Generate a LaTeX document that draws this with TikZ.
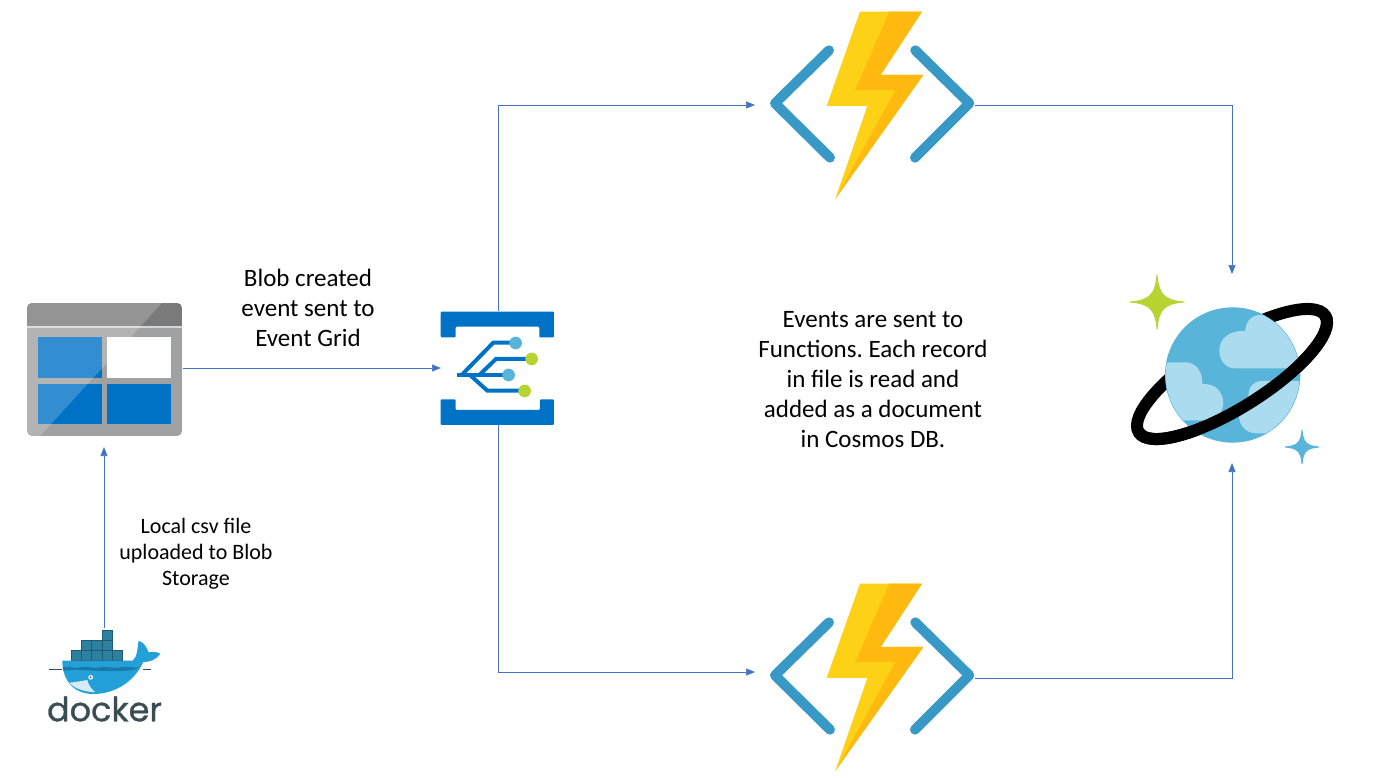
\documentclass[tikz,border=0pt]{standalone}
\usepackage{fontspec}
\setmainfont{Carlito}
\newfontfamily\dockerfont[FakeBold=.8]{Poppins}
\usepackage{xcolor}
\definecolor{flowblue}{RGB}{68,114,196}
\definecolor{azureblue}{RGB}{0,114,198}
\definecolor{azuresky}{RGB}{89,180,217}
\definecolor{azurepale}{RGB}{171,219,238}
\definecolor{azurelime}{RGB}{184,212,50}
\definecolor{funcblue}{RGB}{57,153,198}
\definecolor{boltlight}{RGB}{252,209,22}
\definecolor{boltdark}{RGB}{255,185,15}
\definecolor{blobgrey}{RGB}{160,161,162}
\definecolor{blobhead}{RGB}{122,122,122}
\definecolor{whaleblue}{RGB}{36,160,216}
\definecolor{whaledark}{RGB}{24,122,170}
\definecolor{boxteal}{RGB}{45,128,160}
\definecolor{dockerink}{RGB}{57,77,84}
\usetikzlibrary{arrows.meta}
\tikzset{
  flow/.style={draw=flowblue, line width=.7pt, -{Triangle[length=9pt,width=7pt]}},
  iconbox/.style={inner sep=0pt, outer sep=0pt, minimum width=#1},
  msg/.style={align=center, font=\fontsize{25}{30}\selectfont},
  msgsmall/.style={align=center, font=\fontsize{22}{26}\selectfont},
  dockerbox/.style={fill=boxteal, draw=boxteal!70!black, line width=.4pt},
  pics/functionicon/.style={code={
    \begin{scope}[x=.3333pt,y=-.3333pt]
      \fill[boltlight] (330,35) -- (516,35) -- (392,225) -- (520,225) -- (256,597) -- (352,318) -- (230,318) -- cycle;
      \fill[boltdark] (418,35) -- (516,35) -- (392,225) -- (520,225) -- (256,597) -- (437,270) -- (316,270) -- cycle;
      \draw[funcblue, line width=10pt, line cap=round, line join=round] (237,151) -- (75,310) -- (240,473);
      \draw[funcblue, line width=10pt, line cap=round, line join=round] (496,151) -- (658,310) -- (495,473);
    \end{scope}
  }},
  pics/sparkle/.style={code={
    \filldraw[#1, line width=1pt, line join=round] (0,-27) .. controls (1.5,-7.5) and (7.5,-1.5) .. (27,0) .. controls (7.5,1.5) and (1.5,7.5) .. (0,27)
      .. controls (-1.5,7.5) and (-7.5,1.5) .. (-27,0) .. controls (-7.5,-1.5) and (-1.5,-7.5) .. (0,-27) -- cycle;
  }},
}

\begin{document}
\begin{tikzpicture}[x=1pt,y=-1pt]
  \useasboundingbox (0,0) rectangle (1400,778);
  \frenchspacing

  % blob storage
  \begin{scope}
    \clip[rounded corners=5pt] (27,303) rectangle (182,436);
    \fill[blobgrey] (27,303) rectangle (182,436);
    \fill[blobhead] (27,303) rectangle (182,326);
    \fill[white!55!blobgrey] (27,326) rectangle (182,328);
    \fill[azureblue] (38,337) rectangle (102,378);
    \fill[white] (107,337) rectangle (171,378);
    \fill[azureblue] (38,384) rectangle (102,424);
    \fill[azureblue] (107,384) rectangle (171,424);
    \fill[white, opacity=.2] (27,303) -- (162,303) -- (40,436) -- (27,436) -- cycle;
    \fill[white] (107,337) rectangle (171,378);
  \end{scope}

  % docker
  \begin{scope}[shift={(30,620)},x=.3333pt,y=-.3333pt]
    \foreach \bx/\by in {216/30, 154/61, 185/61, 216/61, 124/92, 154/92, 185/92, 216/92, 247/92}
      \filldraw[dockerbox] (\bx,\by) rectangle +(31,30);
    \fill[whaleblue] (97,122) -- (308,122) .. controls (322,112) and (322,85) .. (326,62)
      .. controls (345,68) and (350,85) .. (356,97) .. controls (370,94) and (382,96) .. (391,101)
      .. controls (378,120) and (360,126) .. (340,126) .. controls (310,190) and (250,222) .. (190,222)
      .. controls (130,222) and (97,180) .. (97,122) -- cycle;
    \fill[whaledark] (98,142) .. controls (120,136) and (130,148) .. (150,142) .. controls (170,136) and (190,148) .. (210,142)
      .. controls (230,136) and (250,148) .. (270,142) .. controls (290,136) and (310,146) .. (330,142)
      .. controls (322,148) and (312,150) .. (300,151) .. controls (220,158) and (160,146) .. (100,152) -- cycle;
    \fill[white!75!azuresky] (118,188) .. controls (140,186) and (160,182) .. (172,180) .. controls (175,195) and (185,208) .. (196,217)
      .. controls (165,215) and (135,208) .. (118,188) -- cycle;
    \fill[white] (182,172) circle (7);
    \fill[dockerink] (182,172) circle (3);
    \draw[dockerink, line width=1pt] (56,148) -- (96,148);
    \draw[dockerink, line width=1pt] (340,148) -- (362,148);
  \end{scope}
  \node[text=dockerink, font=\dockerfont\fontsize{33.5}{34}\selectfont, inner sep=0pt] (dockerword) at (104.5,709) {docker};

  % event grid
  \begin{scope}[shift={(430,300)},x=.3333pt,y=-.3333pt]
    \fill[azureblue, rounded corners=1pt] (32,35) -- (372,35) -- (372,112) -- (328,112) -- (328,80) -- (77,80) -- (77,112) -- (32,112) -- cycle;
    \fill[azureblue, rounded corners=1pt] (32,298) -- (77,298) -- (77,330) -- (330,330) -- (330,298) -- (372,298) -- (372,375) -- (32,375) -- cycle;
    \draw[azureblue, line width=4pt] (80,225) -- (235,225);
    \draw[azureblue, line width=4pt] (95,225) -- (190,128) -- (255,128);
    \draw[azureblue, line width=4pt] (148,225) -- (198,177) -- (305,177);
    \draw[azureblue, line width=4pt] (120,225) -- (172,272) -- (284,272);
    \fill[azuresky] (257,129) circle (19);
    \fill[azurelime] (305,177) circle (19);
    \fill[azuresky] (236,225) circle (19);
    \fill[azurelime] (284,273) circle (19);
  \end{scope}

  % functions
  \pic at (750,0) {functionicon};
  \pic at (750,572) {functionicon};

  % cosmos db
  \begin{scope}[shift={(1232,374)},x=1pt,y=1pt,rotate=32]
    \draw[black, line width=12pt] (0,0) ellipse [x radius=110pt, y radius=34pt];
  \end{scope}
  \begin{scope}[shift={(1120,260)},x=.3333pt,y=-.3333pt]
    \fill[azuresky] (338,345) circle (203);
    \begin{scope}
      \clip (338,345) circle (201);
      \fill[azurepale] (345,325) .. controls (315,325) and (298,300) .. (298,270) .. controls (298,235) and (330,210) .. (376,213)
        .. controls (376,185) and (395,165) .. (420,165) .. controls (470,165) and (520,230) .. (560,325) -- cycle;
      \fill[azurepale] (120,307) -- (200,307) .. controls (230,310) and (248,335) .. (247,372)
        .. controls (285,370) and (310,395) .. (310,430) .. controls (308,460) and (290,480) .. (265,481) -- (120,481) -- cycle;
      \fill[azurepale] (560,363) -- (425,363) .. controls (400,363) and (385,380) .. (385,412)
        .. controls (365,425) and (355,450) .. (358,480) .. controls (365,505) and (385,520) .. (410,520) -- (560,520) -- cycle;
    \end{scope}
  \end{scope}
  \begin{scope}[shift={(1232,374)},x=1pt,y=1pt,rotate=32]
    \draw[black, line width=12pt] (110,0) arc [start angle=0, end angle=-180, x radius=110pt, y radius=34pt];
  \end{scope}
  \pic at (1157,302) {sparkle=azurelime};
  \pic[scale=.62] at (1302,447) {sparkle=azuresky};

  % anchors for the arrows
  \node[iconbox=156pt, minimum height=130pt] (blob) at (105,368) {};
  \node[iconbox=120pt, minimum height=100pt] (docker) at (104,678) {};
  \node[iconbox=114pt, minimum height=114pt] (grid) at (498,368) {};
  \node[iconbox=220pt, minimum height=190pt] (functop) at (865,105) {};
  \node[iconbox=220pt, minimum height=190pt] (funcbot) at (865,672) {};
  \node[iconbox=200pt, minimum height=189pt] (cosmos) at (1232,368.5) {};
  \coordinate (blobin) at (104,447);
  \coordinate (funcbotout) at (975,678);

  \draw[flow] (docker.north) -- (blobin);
  \draw[flow] (blob.east) -- (grid.west);
  \draw[flow] (grid.north) |- (functop.west);
  \draw[flow] (grid.south) |- (funcbot.west);
  \draw[flow] (functop.east) -| (cosmos.north);
  \draw[flow] (funcbotout) -| (cosmos.south);

  \node[msg] (blobmsg) at (308,308) {Blob created\\event sent to\\Event Grid};
  \node[msg] (eventmsg) at (873,380) {Events are sent to\\Functions. Each record\\in file is read and\\added as a document\\in Cosmos DB.};
  \node[msgsmall] (csvmsg) at (196,554) {Local csv file\\uploaded to Blob\\Storage};
\end{tikzpicture}
\end{document}
